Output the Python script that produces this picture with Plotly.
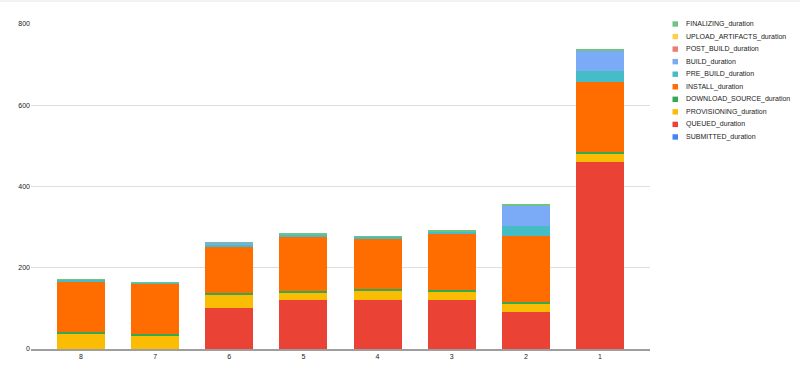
import plotly.graph_objects as go

categories = ["8", "7", "6", "5", "4", "3", "2", "1"]

SUBMITTED_duration = [0, 0, 0, 0, 0, 0, 0, 0]
QUEUED_duration = [1, 1, 100, 120, 120, 120, 90, 460]
PROVISIONING_duration = [37, 33, 32, 20, 24, 22, 23, 20]
DOWNLOAD_SOURCE_duration = [3, 4, 5, 4, 3, 3, 3, 5]
INSTALL_duration = [126, 124, 116, 132, 124, 139, 162, 172]
PRE_BUILD_duration = [3, 1, 3, 6, 6, 6, 25, 27]
BUILD_duration = [0, 0, 6, 0, 0, 0, 50, 50]
POST_BUILD_duration = [0, 0, 0, 0, 0, 0, 0, 0]
UPLOAD_ARTIFACTS_duration = [0, 0, 0, 0, 0, 0, 0, 0]
FINALIZING_duration = [1, 1, 1, 2, 1, 1, 2, 4]

series = [
    ("SUBMITTED_duration", SUBMITTED_duration, "#4285F4"),
    ("QUEUED_duration", QUEUED_duration, "#EA4335"),
    ("PROVISIONING_duration", PROVISIONING_duration, "#FBBC04"),
    ("DOWNLOAD_SOURCE_duration", DOWNLOAD_SOURCE_duration, "#34A853"),
    ("INSTALL_duration", INSTALL_duration, "#FF6D01"),
    ("PRE_BUILD_duration", PRE_BUILD_duration, "#46BDC6"),
    ("BUILD_duration", BUILD_duration, "#7BAAF7"),
    ("POST_BUILD_duration", POST_BUILD_duration, "#F07B72"),
    ("UPLOAD_ARTIFACTS_duration", UPLOAD_ARTIFACTS_duration, "#FCD04F"),
    ("FINALIZING_duration", FINALIZING_duration, "#71C287"),
]

y_ticks = [0, 200, 400, 600, 800]

W, H = 800, 365
ML, MR, MT, MB = 31, 150, 24, 16
PW, PH = W - ML - MR, H - MT - MB

def px2x(px):
    return (px - ML) / PW

def px2y(py):
    return 1 - (py - MT) / PH

fig = go.Figure()
for name, vals, color in series:
    fig.add_trace(go.Bar(
        x=categories, y=vals, name=name,
        marker=dict(color=color, line=dict(width=0)),
        showlegend=False,
    ))

font = "Liberation Sans, Arial, sans-serif"

# Custom compact legend (reverse order, like the reference)
shapes = []
annotations = []
for i, (name, vals, color) in enumerate(reversed(series)):
    cy = 24 + i * 12.55
    shapes.append(dict(
        type="rect", xref="paper", yref="paper",
        x0=px2x(672.5), x1=px2x(678), y0=px2y(cy - 2.7), y1=px2y(cy + 2.7),
        fillcolor=color, line=dict(width=0),
    ))
    annotations.append(dict(
        xref="paper", yref="paper", x=px2x(684), y=px2y(cy),
        xanchor="left", yanchor="middle", text=name, showarrow=False,
        font=dict(family=font, size=7, color="#222222"),
    ))

# top border line of the chart container
shapes.append(dict(
    type="line", xref="paper", yref="paper",
    x0=px2x(0), x1=px2x(800), y0=px2y(1), y1=px2y(1),
    line=dict(color="#e6e6e6", width=1),
))

fig.update_layout(
    barmode="stack",
    bargap=0.353,
    width=W, height=H,
    margin=dict(l=ML, r=MR, t=MT, b=MB, pad=0, autoexpand=False),
    paper_bgcolor="white",
    plot_bgcolor="white",
    font=dict(family=font, size=7, color="#222222"),
    shapes=shapes,
    annotations=annotations,
    xaxis=dict(
        type="category",
        range=[-0.675, 7.675],
        showgrid=False,
        showline=True, linecolor="#9e9e9e", linewidth=1.5,
        ticks="", tickfont=dict(size=7, color="#222222"),
        automargin=False,
        fixedrange=True,
    ),
    yaxis=dict(
        range=[0, 800],
        tickvals=y_ticks,
        ticktext=[str(v) for v in y_ticks],
        showgrid=True, gridcolor="#dedede", gridwidth=1,
        zeroline=False,
        ticks="", tickfont=dict(size=7, color="#222222"),
        automargin=False,
        fixedrange=True,
    ),
)

fig.write_html("out.html")
